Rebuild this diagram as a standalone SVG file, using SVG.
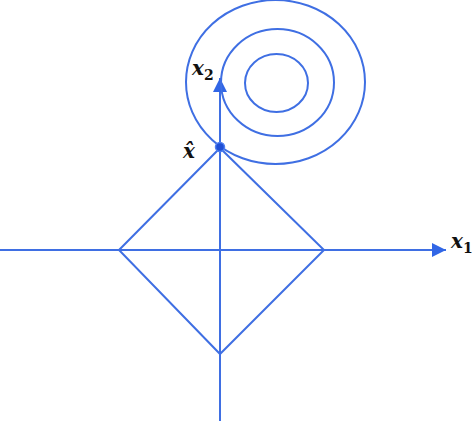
<svg xmlns="http://www.w3.org/2000/svg" width="474" height="421" viewBox="0 0 474 421">
<style>
.ln{fill:none;stroke:#3f6fe3;stroke-width:2}
.lbl{font-family:"DejaVu Serif","Liberation Serif",serif;font-style:italic;font-weight:bold;fill:#111;font-size:20px}
.sub{font-family:"DejaVu Serif","Liberation Serif",serif;font-style:normal;font-weight:bold;fill:#111;font-size:14px}
</style>
<defs>
<marker id="ah" viewBox="0 0 14 14" refX="14" refY="7" markerWidth="14" markerHeight="14" markerUnits="userSpaceOnUse" orient="auto">
<path d="M0,0 L14,7 L0,14 Z" fill="#3166e6"/>
</marker>
</defs>
<rect width="474" height="421" fill="#fff"/>
<g id="connectors">
<line class="ln" x1="0" y1="250" x2="446" y2="250" marker-end="url(#ah)"/>
<line class="ln" x1="220" y1="421" x2="220" y2="78" marker-end="url(#ah)"/>
</g>
<g id="diamond">
<polygon class="ln" points="119,250 220,148 324,250 220,354"/>
</g>
<g id="contours">
<ellipse class="ln" cx="275.5" cy="82" rx="89.5" ry="82"/>
<ellipse class="ln" cx="277.5" cy="82.5" rx="56.5" ry="53.5"/>
<ellipse class="ln" cx="276.5" cy="83" rx="31.5" ry="29"/>
</g>
<g id="point">
<circle cx="220" cy="147" r="4.5" fill="#1f4fd6" stroke="#4f7ff0" stroke-width="1.5"/>
<text class="lbl" x="183" y="158">x̂</text>
</g>
<g id="label-x2">
<text class="lbl" x="192" y="75">x<tspan class="sub" dy="5">2</tspan></text>
</g>
<g id="label-x1">
<text class="lbl" x="451" y="248">x<tspan class="sub" dy="5">1</tspan></text>
</g>
</svg>
